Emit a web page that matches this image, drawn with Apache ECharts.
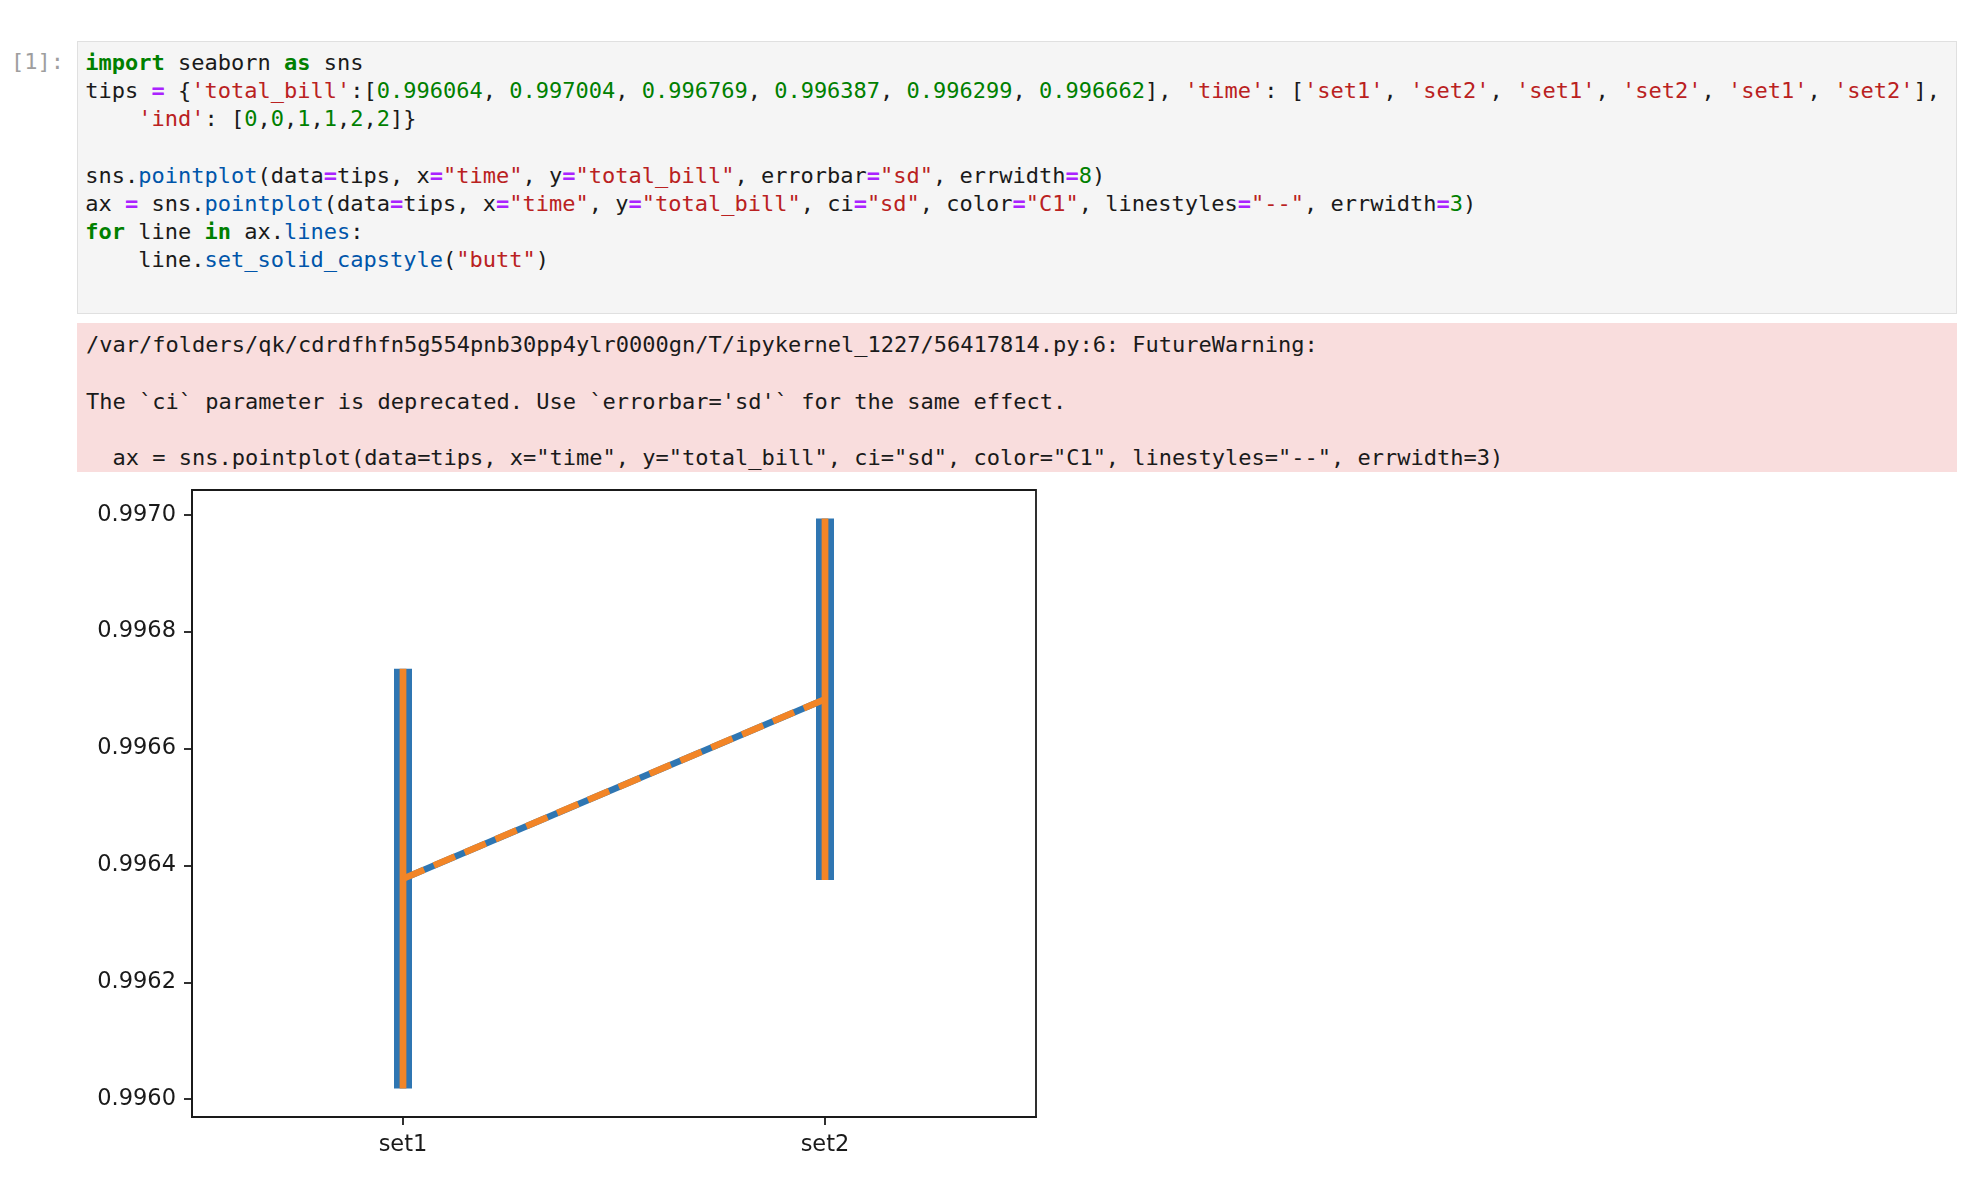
<!DOCTYPE html>
<html>
<head>
<meta charset="utf-8">
<script src="https://cdn.jsdelivr.net/npm/echarts@6/dist/echarts.min.js"></script>
<style>
  html, body { margin: 0; padding: 0; background: #ffffff; width: 1972px; height: 1182px; overflow: hidden; }
  .mono { font-family: "DejaVu Sans Mono", monospace; font-size: 22px; line-height: 28.25px; white-space: pre; color: #1a1a1a; }
  .prompt { position: absolute; left: 0; top: 48px; width: 64px; text-align: right; color: #9e9e9e; }
  .cell { position: absolute; left: 77px; top: 41px; width: 1880px; height: 273px; box-sizing: border-box;
          background: #f5f5f5; border: 1.7px solid #e0e0e0; }
  .cell pre { margin: 0; position: absolute; left: 7.3px; top: 6.5px; }
  .warn { position: absolute; left: 77px; top: 323px; width: 1880px; height: 149px; background: #f9dddd; }
  .warn pre { margin: 0; position: absolute; left: 9px; top: 8px; }
  .k { color: #008000; font-weight: bold; }
  .s { color: #ba2121; }
  .n { color: #008000; }
  .o { color: #aa22ff; font-weight: bold; }
  .p { color: #0055aa; }
  #chart { position: absolute; left: 0; top: 480px; width: 1100px; height: 702px; }
</style>
</head>
<body>
<div class="prompt mono">[1]:</div>
<div class="cell"><pre class="mono"><span class="k">import</span> seaborn <span class="k">as</span> sns
tips <span class="o">=</span> {<span class="s">'total_bill'</span>:[<span class="n">0.996064</span>, <span class="n">0.997004</span>, <span class="n">0.996769</span>, <span class="n">0.996387</span>, <span class="n">0.996299</span>, <span class="n">0.996662</span>], <span class="s">'time'</span>: [<span class="s">'set1'</span>, <span class="s">'set2'</span>, <span class="s">'set1'</span>, <span class="s">'set2'</span>, <span class="s">'set1'</span>, <span class="s">'set2'</span>],
    <span class="s">'ind'</span>: [<span class="n">0</span>,<span class="n">0</span>,<span class="n">1</span>,<span class="n">1</span>,<span class="n">2</span>,<span class="n">2</span>]}

sns.<span class="p">pointplot</span>(data<span class="o">=</span>tips, x<span class="o">=</span><span class="s">"time"</span>, y<span class="o">=</span><span class="s">"total_bill"</span>, errorbar<span class="o">=</span><span class="s">"sd"</span>, errwidth<span class="o">=</span><span class="n">8</span>)
ax <span class="o">=</span> sns.<span class="p">pointplot</span>(data<span class="o">=</span>tips, x<span class="o">=</span><span class="s">"time"</span>, y<span class="o">=</span><span class="s">"total_bill"</span>, ci<span class="o">=</span><span class="s">"sd"</span>, color<span class="o">=</span><span class="s">"C1"</span>, linestyles<span class="o">=</span><span class="s">"--"</span>, errwidth<span class="o">=</span><span class="n">3</span>)
<span class="k">for</span> line <span class="k">in</span> ax.<span class="p">lines</span>:
    line.<span class="p">set_solid_capstyle</span>(<span class="s">"butt"</span>)</pre></div>
<div class="warn"><pre class="mono">/var/folders/qk/cdrdfhfn5g554pnb30pp4ylr0000gn/T/ipykernel_1227/56417814.py:6: FutureWarning:

The `ci` parameter is deprecated. Use `errorbar='sd'` for the same effect.

  ax = sns.pointplot(data=tips, x="time", y="total_bill", ci="sd", color="C1", linestyles="--", errwidth=3)</pre></div>
<div id="chart"></div>
<script>
// ---- data (from the notebook cell) ----
const categories = ['set1', 'set2'];
const totalBill = [0.996064, 0.997004, 0.996769, 0.996387, 0.996299, 0.996662];
const timeGroup = ['set1', 'set2', 'set1', 'set2', 'set1', 'set2'];
const yTickValues = [0.9960, 0.9962, 0.9964, 0.9966, 0.9968, 0.9970];

// ---- pointplot statistics: mean and sd (ddof=1) per category ----
const means = [], lowers = [], uppers = [];
categories.forEach(function (c) {
  const vals = totalBill.filter(function (v, i) { return timeGroup[i] === c; });
  const m = vals.reduce(function (a, b) { return a + b; }, 0) / vals.length;
  const sd = Math.sqrt(vals.reduce(function (a, b) { return a + (b - m) * (b - m); }, 0) / (vals.length - 1));
  means.push(m); lowers.push(m - sd); uppers.push(m + sd);
});
const lo = Math.min.apply(null, lowers), hi = Math.max.apply(null, uppers);
const pad = (hi - lo) * 0.05;
const yMin = lo - pad, yMax = hi + pad;

const BLUE = '#2f76b2', ORANGE = '#f28527', INK = '#1a1a1a';
const errData = categories.map(function (c, i) { return [i, lowers[i], uppers[i]]; });

function errRenderer(color, width) {
  return function (params, api) {
    const p1 = api.coord([api.value(0), api.value(1)]);
    const p2 = api.coord([api.value(0), api.value(2)]);
    return {
      type: 'line',
      shape: { x1: p1[0], y1: p1[1], x2: p2[0], y2: p2[1] },
      style: { stroke: color, lineWidth: width, lineCap: 'butt' }
    };
  };
}

const chart = echarts.init(document.getElementById('chart'), null, { renderer: 'canvas' });
chart.setOption({
  animation: false,
  backgroundColor: 'transparent',
  grid: { left: 192, top: 10, width: 844, height: 627, show: true, borderColor: INK, borderWidth: 1.8, backgroundColor: 'transparent' },
  xAxis: {
    type: 'category',
    data: categories,
    boundaryGap: true,
    axisLine: { show: true, lineStyle: { color: INK, width: 1.8 } },
    axisTick: { show: true, alignWithLabel: true, length: 8, lineStyle: { color: INK, width: 1.8 } },
    axisLabel: { color: INK, fontFamily: 'DejaVu Sans', fontSize: 22.5, margin: 17 },
    splitLine: { show: false }
  },
  yAxis: {
    type: 'value',
    min: yMin,
    max: yMax,
    axisLine: { show: true, lineStyle: { color: INK, width: 1.8 } },
    axisTick: { show: true, length: 8, lineStyle: { color: INK, width: 1.8 }, customValues: yTickValues },
    axisLabel: {
      color: INK, fontFamily: 'DejaVu Sans', fontSize: 22.5, margin: 16,
      customValues: yTickValues,
      formatter: function (v) { return v.toFixed(4); }
    },
    splitLine: { show: false }
  },
  series: [
    { type: 'custom', name: 'err1', data: errData, encode: { x: 0, y: [1, 2] }, renderItem: errRenderer(BLUE, 18), z: 2 },
    { type: 'line', name: 'line1', data: means, symbol: 'none', z: 3,
      lineStyle: { color: BLUE, width: 6.5, cap: 'butt', type: 'solid' } },
    { type: 'custom', name: 'err2', data: errData, encode: { x: 0, y: [1, 2] }, renderItem: errRenderer(ORANGE, 6.75), z: 4 },
    { type: 'line', name: 'line2', data: means, symbol: 'none', z: 5,
      lineStyle: { color: ORANGE, width: 6.5, cap: 'butt', type: [23, 10.5] } }
  ]
});
</script>
</body>
</html>
